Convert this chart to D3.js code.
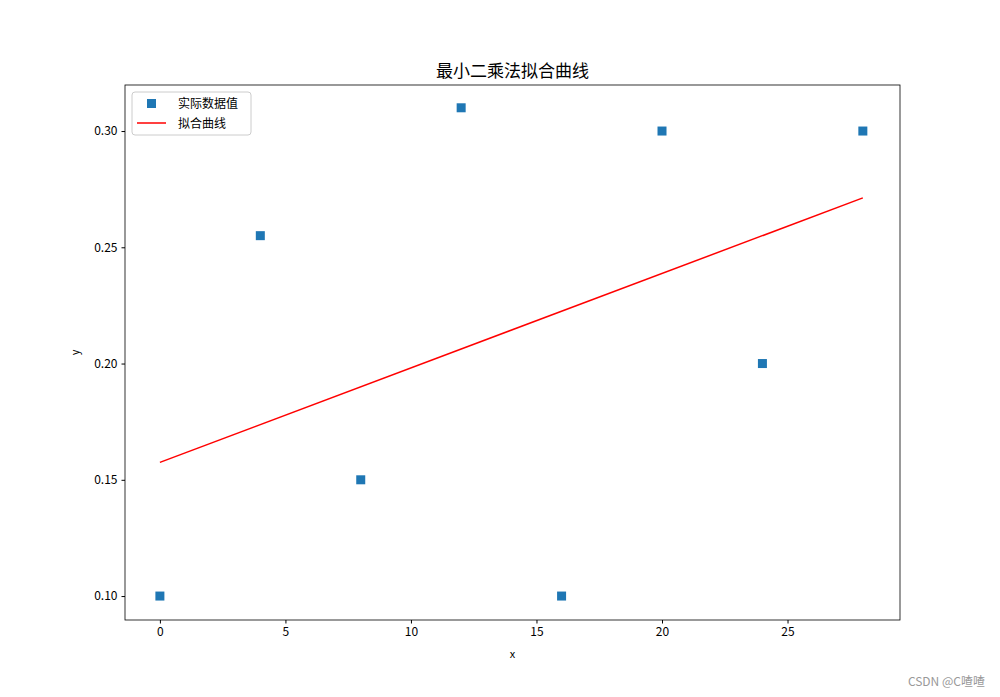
<!DOCTYPE html>
<html><head><meta charset="utf-8">
<script src="https://cdn.jsdelivr.net/npm/d3@7/dist/d3.min.js"></script>
<style>body{margin:0;background:#fff}text{font-family:"Noto Sans CJK SC",sans-serif}</style>
</head><body><svg id="c" width="1000" height="697"></svg>
<script>
const xData=[0,4,8,12,16,20,24,28];
const yData=[0.10,0.255,0.15,0.31,0.10,0.30,0.20,0.30];
const fitX=[0,28];
const fitY=[0.1575,0.27125];
const xTicks=[0,5,10,15,20,25];
const yTicks=[0.10,0.15,0.20,0.25,0.30];

const svg=d3.select("#c");
const L=125,R=900,T=85,B=620;
const x=d3.scaleLinear().domain([-1.39,29.48]).range([L,R]);
const y=d3.scaleLinear().domain([0.0897,0.3198]).range([B,T]);

svg.append("g").attr("transform",`translate(0,${B})`)
 .call(d3.axisBottom(x).tickValues(xTicks).tickSize(3.5).tickPadding(4).tickFormat(d3.format("d")))
 .call(g=>{g.select(".domain").remove();g.selectAll("text").attr("font-size",12).attr("fill","#000")});
svg.append("g").attr("transform",`translate(${L},0)`)
 .call(d3.axisLeft(y).tickValues(yTicks).tickSize(3.5).tickPadding(4).tickFormat(d3.format(".2f")))
 .call(g=>{g.select(".domain").remove();g.selectAll("text").attr("font-size",12).attr("fill","#000")});
svg.append("rect").attr("x",L).attr("y",T).attr("width",R-L).attr("height",B-T)
 .attr("fill","none").attr("stroke","#000").attr("stroke-width",0.8);

svg.append("path").datum(fitX.map((v,i)=>[v,fitY[i]]))
 .attr("d",d3.line().x(d=>x(d[0])).y(d=>y(d[1])))
 .attr("fill","none").attr("stroke","red").attr("stroke-width",1.5);
svg.selectAll("rect.pt").data(xData).enter().append("rect").attr("class","pt")
 .attr("x",(d)=>x(d)-4.5).attr("y",(d,i)=>y(yData[i])-4.5).attr("width",9).attr("height",9).attr("fill","#1f77b4");

svg.append("text").attr("x",(L+R)/2).attr("y",T-8).attr("text-anchor","middle").attr("font-size",17).text("最小二乘法拟合曲线");
svg.append("text").attr("x",(L+R)/2).attr("y",658).attr("text-anchor","middle").attr("font-size",11).text("x");
svg.append("text").attr("transform",`translate(79,${(T+B)/2}) rotate(-90)`).attr("text-anchor","middle").attr("font-size",11).text("y");

const lg=svg.append("g");
lg.append("rect").attr("x",132).attr("y",92).attr("width",119).attr("height",43).attr("rx",3)
 .attr("fill","#fff").attr("stroke","#ccc");
lg.append("rect").attr("x",147).attr("y",99).attr("width",9).attr("height",9).attr("fill","#1f77b4");
lg.append("text").attr("x",178).attr("y",108).attr("font-size",12).text("实际数据值");
lg.append("line").attr("x1",137).attr("x2",166).attr("y1",123).attr("y2",123).attr("stroke","red").attr("stroke-width",1.5);
lg.append("text").attr("x",178).attr("y",128).attr("font-size",12).text("拟合曲线");
svg.append("text").attr("x",985).attr("y",686).attr("text-anchor","end").attr("font-size",12).attr("fill","#999").text("CSDN @C喳喳");
</script></body></html>
